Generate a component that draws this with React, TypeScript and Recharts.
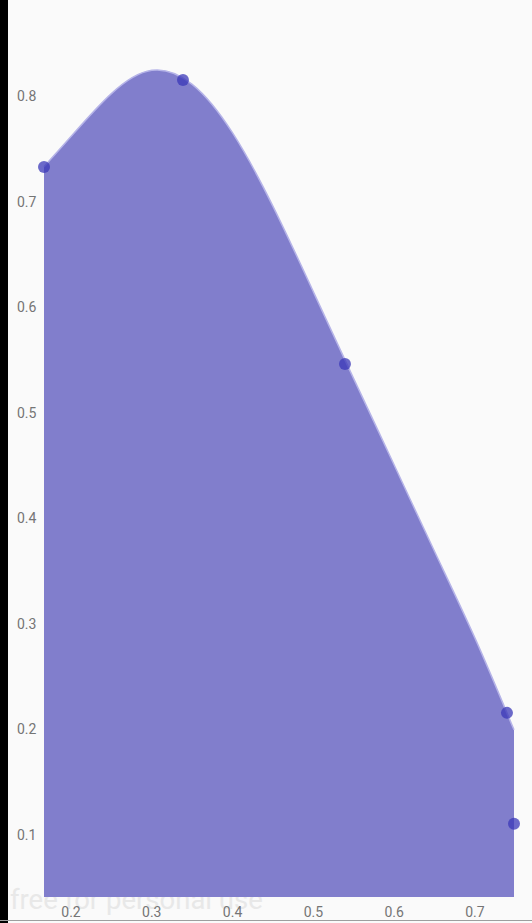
import { ComposedChart, Area, Scatter, XAxis, YAxis } from 'recharts';

// smooth curve
const curveX = [0.1666, 0.2, 0.25, 0.3, 0.35, 0.4, 0.45, 0.5, 0.55, 0.6, 0.65, 0.7, 0.7483];
const curveY = [0.733, 0.7615, 0.8022, 0.8243, 0.811, 0.765, 0.6955, 0.6145, 0.532, 0.4505, 0.3685, 0.2865, 0.1996];

// the dots
const pointX = [0.1666, 0.3386, 0.5391, 0.7396, 0.7483];
const pointY = [0.7328, 0.8152, 0.5462, 0.2157, 0.1106];

const xTicks = [0.2, 0.3, 0.4, 0.5, 0.6, 0.7];
const yTicks = [0.1, 0.2, 0.3, 0.4, 0.5, 0.6, 0.7, 0.8];

const curve = curveX.map((x, i) => ({ x, y: curveY[i] }));
const points = pointX.map((x, i) => ({ x, y: pointY[i] }));

const TICK_COLOR = '#757575';

const XTick = (props: any) => (
    <text x={props.x} y={917} textAnchor="middle" fill={TICK_COLOR} fontSize={14} fontFamily="Roboto">
        {props.payload.value.toFixed(1)}
    </text>
);

const YTick = (props: any) => (
    <text x={17} y={props.y} dy={5} textAnchor="start" fill={TICK_COLOR} fontSize={14} fontFamily="Roboto">
        {props.payload.value.toFixed(1)}
    </text>
);

const Dot = (props: any) => (
    <circle cx={props.cx} cy={props.cy} r={6} fill="#3b38b8" fillOpacity={0.75} />
);

export default function App() {
    return (
        <div style={{ position: 'absolute', left: 0, top: 0, width: 532, height: 923, background: '#fafafa', overflow: 'hidden' }}>
            <div style={{ position: 'absolute', left: 0, top: 0, width: 8, height: 923, background: '#000' }} />
            <div style={{ position: 'absolute', left: 0, top: 920, width: 532, height: 1, background: '#9e9e9e' }} />
            <div style={{ position: 'absolute', left: 10, top: 883, fontFamily: 'Roboto', fontSize: 27.5, color: '#e8e8e8', whiteSpace: 'nowrap' }}>
                free for personal use
            </div>
            <div style={{ position: 'absolute', left: 0, top: 0 }}>
                <ComposedChart width={532} height={923} margin={{ top: 0, right: 18, bottom: 0, left: 8 }}>
                    <XAxis
                        type="number"
                        dataKey="x"
                        domain={[0.1666, 0.7483]}
                        ticks={xTicks}
                        height={26}
                        axisLine={false}
                        tickLine={false}
                        tick={<XTick />}
                    />
                    <YAxis
                        type="number"
                        dataKey="y"
                        domain={[0.0413, 0.8909]}
                        ticks={yTicks}
                        width={36}
                        axisLine={false}
                        tickLine={false}
                        tick={<YTick />}
                    />
                    <Area
                        data={curve}
                        dataKey="y"
                        type="natural"
                        fill="#817ecc"
                        fillOpacity={1}
                        stroke="#b6b4e8"
                        strokeWidth={1.5}
                        isAnimationActive={false}
                    />
                    <Scatter data={points} dataKey="y" shape={<Dot />} isAnimationActive={false} />
                </ComposedChart>
            </div>
        </div>
    );
}
